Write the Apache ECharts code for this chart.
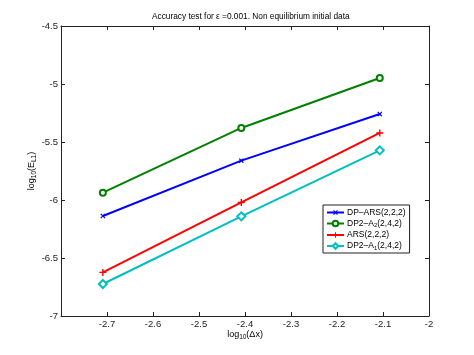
<!DOCTYPE html>
<html><head><meta charset="utf-8">
<script src="https://cdn.jsdelivr.net/npm/echarts@6/dist/echarts.min.js"></script>
<style>html,body{margin:0;padding:0;background:#fff}#c{width:474px;height:355px}</style>
</head><body><div id="c"></div>
<script>
const logDx = [-2.709, -2.408, -2.107];
const dpArs = [-6.138, -5.661, -5.259];
const dp2A2 = [-5.937, -5.379, -4.948];
const ars = [-6.624, -6.021, -5.422];
const dp2A1 = [-6.724, -6.141, -5.572];
const xTicks = [-2.8, -2.7, -2.6, -2.5, -2.4, -2.3, -2.2, -2.1, -2];
const yTicks = [-7, -6.5, -6, -5.5, -5, -4.5];

const FONT = 'Liberation Sans';
const pts = v => logDx.map((x, i) => [x, v[i]]);
const plusPath = 'path://M4,0h2v4h4v2h-4v4h-2v-4h-4v-2h4z';
const names = ['DP-ARS(2,2,2)', 'DP2-A2(2,4,2)', 'ARS(2,2,2)', 'DP2-A1(2,4,2)'];
const labelMap = {
  'DP-ARS(2,2,2)': 'DP\u2013ARS(2,2,2)',
  'DP2-A2(2,4,2)': 'DP2\u2013A{s|2}(2,4,2)',
  'ARS(2,2,2)': 'ARS(2,2,2)',
  'DP2-A1(2,4,2)': 'DP2\u2013A{s|1}(2,4,2)'
};
const fmt = v => String(Math.round(v * 10) / 10);
const chart = echarts.init(document.getElementById('c'));
const axCommon = {
  axisLine: {lineStyle: {color: '#222', width: 1}},
  axisTick: {inside: true, length: 4, lineStyle: {color: '#222'}},
  splitLine: {show: false}
};
chart.setOption({
  animation: false,
  backgroundColor: '#fff',
  title: {
    text: 'Accuracy test for \u03b5 =0.001. Non equilibrium initial data',
    left: 147, top: 8,
    textStyle: {fontFamily: FONT, fontSize: 8.3, fontWeight: 'normal', color: '#000'}
  },
  grid: {left: 61, right: 45, top: 26, bottom: 39},
  legend: {
    data: names,
    orient: 'vertical',
    left: 323, top: 205,
    itemWidth: 17, itemHeight: 7, itemGap: 2,
    padding: [3, 4, 2, 3],
    backgroundColor: '#fff',
    borderColor: '#222', borderWidth: 1, borderRadius: 0,
    formatter: n => labelMap[n],
    textStyle: {
      fontFamily: FONT, fontSize: 8.5, color: '#000', padding: [0, 0, 0, -2],
      rich: {s: {fontFamily: FONT, fontSize: 6, verticalAlign: 'bottom', padding: [4, 0, 0, 0]}}
    }
  },
  xAxis: [
    Object.assign({}, axCommon, {
      type: 'value', min: -2.8, max: -2, interval: 0.1, position: 'bottom',
      name: 'log{s|10}(\u0394x)', nameLocation: 'middle', nameGap: 13, nameMoveOverlap: false,
      nameTextStyle: {fontFamily: FONT, fontSize: 9, color: '#000',
        rich: {s: {fontFamily: FONT, fontSize: 6.5, padding: [5, 0, 0, 0]}}},
      axisLabel: {fontFamily: FONT, fontSize: 9.5, color: '#222', margin: 3,
        showMinLabel: false, formatter: fmt}
    }),
    Object.assign({}, axCommon, {
      type: 'value', min: -2.8, max: -2, interval: 0.1, position: 'top',
      axisLabel: {show: false}
    })
  ],
  yAxis: [
    Object.assign({}, axCommon, {
      type: 'value', min: -7, max: -4.5, interval: 0.5, position: 'left',
      name: 'log{s|10}(E{s|L1})', nameLocation: 'middle', nameGap: 23, nameRotate: 90,
      nameMoveOverlap: false,
      nameTextStyle: {fontFamily: FONT, fontSize: 9, color: '#000',
        rich: {s: {fontFamily: FONT, fontSize: 6.5, padding: [5, 0, 0, 0]}}},
      axisLabel: {fontFamily: FONT, fontSize: 9.5, color: '#222', margin: 3, formatter: fmt}
    }),
    Object.assign({}, axCommon, {
      type: 'value', min: -7, max: -4.5, interval: 0.5, position: 'right',
      axisLabel: {show: false}
    })
  ],
  series: [
    {name: names[0], type: 'line', data: pts(dpArs), color: '#0000ff',
     lineStyle: {width: 2}, symbol: plusPath, symbolRotate: 45, symbolSize: 6,
     itemStyle: {color: '#0000ff'}},
    {name: names[1], type: 'line', data: pts(dp2A2), color: '#008000',
     lineStyle: {width: 2}, symbol: 'emptyCircle', symbolSize: 6,
     itemStyle: {color: '#008000', borderWidth: 2}},
    {name: names[2], type: 'line', data: pts(ars), color: '#ff0000',
     lineStyle: {width: 2}, symbol: plusPath, symbolSize: 7,
     itemStyle: {color: '#ff0000'}},
    {name: names[3], type: 'line', data: pts(dp2A1), color: '#00bfbf',
     lineStyle: {width: 2}, symbol: 'emptyDiamond', symbolSize: 8,
     itemStyle: {color: '#00bfbf', borderWidth: 2}}
  ]
});
</script></body></html>
